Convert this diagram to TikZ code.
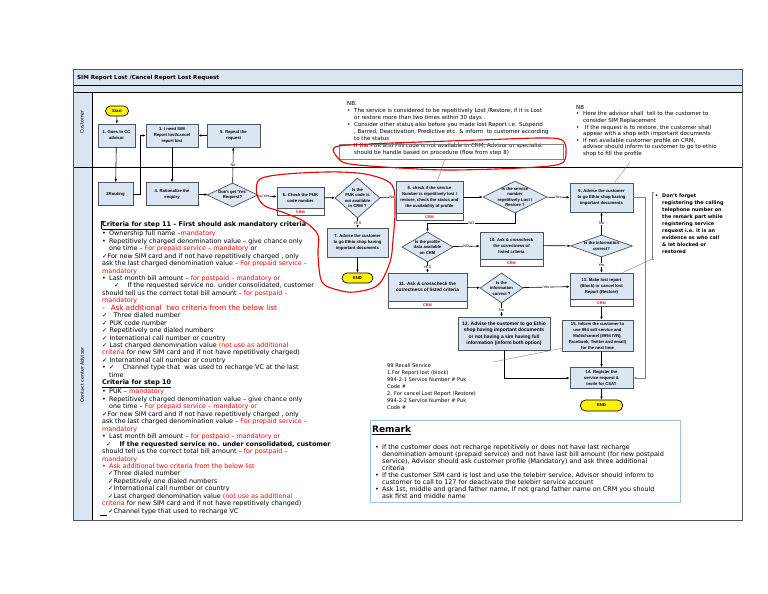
\documentclass[tikz,border=0pt]{standalone}
\usepackage{fontspec}
\setmainfont{DejaVu Sans}
\newfontfamily\boxfont{Liberation Sans}
\usetikzlibrary{arrows.meta, positioning, shapes.geometric}

\definecolor{lanefill}{RGB}{219,229,241}
\definecolor{boxfill}{RGB}{220,230,242}
\definecolor{boxline}{RGB}{75,85,100}
\definecolor{remarkline}{RGB}{155,194,230}
\definecolor{penred}{RGB}{230,0,0}

\newcommand{\rd}[1]{\textcolor{red}{#1}}
\newcommand{\bl}{\makebox[7pt][l]{•}}
\newcommand{\ck}{✓}

\begin{document}
\begin{tikzpicture}[x=10pt, y=-10pt,
    proc/.style={rectangle, draw=boxline, fill=boxfill, line width=0.7pt, align=center, inner sep=0.5pt, font=\boxfont\fontsize{4.2}{6}\selectfont\bfseries},
    crm/.style={rectangle, draw=boxline, fill=white, line width=0.7pt, minimum width=#1, minimum height=7pt, inner sep=0pt, text=red, font=\boxfont\fontsize{3.8}{4}\selectfont\bfseries},
    decision/.style={diamond, draw=boxline, fill=boxfill, line width=0.7pt, inner sep=0pt},
    dtext/.style={align=center, inner sep=0pt, font=\boxfont\fontsize{4.2}{5.5}\selectfont\bfseries},
    term/.style={rectangle, rounded corners=5pt, draw, fill=yellow, line width=0.7pt, minimum height=10pt, inner sep=0pt, font=\boxfont\fontsize{4.2}{5}\selectfont\bfseries},
    arrow/.style={-{Latex[length=3pt, width=2.6pt]}, line width=0.6pt},
    callout/.style={draw=gray, line width=0.4pt},
    yn/.style={font=\boxfont\fontsize{3.8}{4}\selectfont, fill=white, inner sep=0.4pt},
    note/.style={anchor=north west, align=left, inner sep=0pt},
    redmark/.style={draw=penred, line width=1.1pt},
]
\useasboundingbox (0,0) rectangle (76.8,59.4);

% Frame and swimlanes
\fill[lanefill] (7.3,7.0) rectangle (74.2,9.2);
\fill[lanefill] (7.3,9.2) rectangle (9.2,52.0);
\draw[line width=0.5pt] (7.3,8.5) -- (74.2,8.5);
\draw[line width=0.6pt] (7.3,9.2) -- (74.2,9.2);
\draw[line width=0.6pt] (9.2,9.2) -- (9.2,52.0);
\draw[line width=0.7pt] (7.3,16.7) -- (74.2,16.7);
\draw[boxline, line width=1pt] (7.3,7.0) rectangle (74.2,52.0);
\node[anchor=west, inner sep=0pt, font=\fontsize{5.6}{6}\selectfont\bfseries] (title) at (7.7,7.8) {SIM Report Lost /Cancel Report Lost Request};
\node[rotate=90, font=\fontsize{4.8}{5}\selectfont] (lcust) at (8.2,12.2) {Customer};
\node[rotate=90, font=\fontsize{4.8}{5}\selectfont] (ladv) at (8.2,37.5) {Contact center Advisor};

% Customer lane
\node[term, minimum width=23pt] (start) at (11.7,11.1) {Start};
\node[proc, minimum width=37pt, minimum height=23pt] (n1) at (11.65,13.55) {1. Goes to CC\\advisor};
\node[proc, minimum width=52pt, minimum height=23pt] (n3) at (17.2,13.55) {3. I need SIM\\Report lost/cancel\\report lost};
\node[proc, minimum width=53pt, minimum height=23pt] (n5) at (23.35,13.55) {5. Repeat the\\request};

% Advisor lane
\node[proc, minimum width=35pt, minimum height=23pt] (n2) at (11.55,19.4) {2Routing};
\node[proc, minimum width=52pt, minimum height=23pt] (n4) at (17.2,19.4) {4. Rationalize the\\enquiry};
\node[decision, minimum width=51pt, minimum height=24pt] (d1) at (23.25,19.5) {};
\node[dtext] (d1t) at (d1) {Don't get 'Yes'\\Request?};
\node[proc, minimum width=47pt, minimum height=21pt] (n6) at (30.05,19.75) {6. Check the PUK\\code number};
\node[crm=47pt, below=0pt of n6] (n6crm) {CRM};
\node[decision, minimum width=45pt, minimum height=40pt] (d2) at (35.75,19.8) {};
\node[dtext] (d2t) at (d2) {Is the\\PUK code is\\not available\\in CRM ?};
\node[proc, minimum width=61pt, minimum height=29pt] (n7) at (35.75,24.25) {7. Advise the customer\\to go Ethio shop having\\important documents};
\node[term, minimum width=31pt] (end1) at (35.75,27.8) {END};
\node[proc, minimum width=67pt, minimum height=32pt] (n8) at (42.95,19.7) {8. check if the service\\Number is repetitively lost /\\restore, check the status and\\the availability of profile};
\node[crm=67pt, below=0pt of n8] (n8crm) {CRM};
\node[decision, minimum width=64pt, minimum height=32pt] (d3) at (51.5,19.7) {};
\node[dtext] (d3t) at (d3) {Is the service\\number\\repetitively Lost /\\Restore ?};
\node[proc, minimum width=63pt, minimum height=29pt] (n9) at (60.15,19.75) {9. Advise the customer\\to go Ethio shop having\\important documents};
\node[decision, minimum width=51pt, minimum height=30pt] (d4) at (42.75,24.7) {};
\node[dtext] (d4t) at (d4) {Is the profile\\data available\\on CRM};
\node[proc, minimum width=63pt, minimum height=27pt] (n10) at (51.15,24.55) {10. Ask \& crosscheck\\the correctness of\\listed criteria};
\node[crm=63pt, below=0pt of n10] (n10crm) {CRM};
\node[decision, minimum width=62pt, minimum height=22pt] (d5) at (60.15,24.6) {};
\node[dtext] (d5t) at (d5) {Is the information\\correct?};
\node[proc, minimum width=79pt, minimum height=28pt, font=\boxfont\fontsize{4.7}{6.5}\selectfont\bfseries] (n11) at (42.75,28.7) {11. Ask \& crosscheck the\\correctness of listed criteria};
\node[crm=79pt, below=0pt of n11] (n11crm) {CRM};
\node[decision, minimum width=43pt, minimum height=30pt] (d6) at (50.15,28.8) {};
\node[dtext] (d6t) at (d6) {Is the\\information\\correct ?};
\node[proc, minimum width=63pt, minimum height=26pt] (n13) at (60.15,28.6) {13. Make lost report\\(Block) or cancel lost\\Report (Restore)};
\node[crm=63pt, below=0pt of n13] (n13crm) {CRM};
\node[proc, minimum width=92pt, minimum height=33pt, font=\boxfont\fontsize{4.9}{6.5}\selectfont\bfseries] (n12) at (50.4,33.35) {12. Advise the customer to go Ethio\\shop having important documents\\or not having a sim having full\\information (inform both option)};
\node[proc, minimum width=71pt, minimum height=31pt] (n15) at (59.75,33.55) {15. Inform the customer to\\use 994 self service and\\Multichannel (8994 IVR),\\Facebook, Twitter and email)\\for the next time};
\node[proc, minimum width=63pt, minimum height=21pt] (n14) at (60.15,37.8) {14. Register the\\service request \&\\invite for CSAT};
\node[term, minimum width=42pt, minimum height=11pt] (end2) at (60.15,40.55) {END};

% Flow
\draw[arrow] (start) -- (n1);
\draw[arrow] (n1) -- (n2);
\draw[arrow] (n2.east) -- ++(7pt,0) |- (n3.west);
\draw[arrow] (n3) -- (n4);
\draw[arrow] (n4) -- (d1);
\draw[arrow] (d1) -- node[yn]{No} (n5);
\draw[arrow] (n5) -- (n3);
\draw[arrow] (d1) -- node[yn]{Yes} (n6);
\draw[arrow] (n6) -- (d2);
\draw[arrow] (d2) -- node[yn]{YES} (n7);
\draw[arrow] (n7) -- (end1);
\draw[arrow] (d2) -- node[yn, near end]{No} (n8);
\draw[arrow] (n8) -- (d3);
\draw[arrow] (d3) -- node[yn]{Yes} (n9);
\draw[arrow] (d3.south) -- ++(0,-10pt) -| node[yn, pos=0.25]{NO} (d4.north);
\draw[arrow] (d4) -- node[yn]{NO} (n10);
\draw[arrow] (n10) -- (d5);
\draw[arrow] (d5) -- node[yn]{No} (n9);
\draw[arrow] (d5) -- node[yn]{Yes} (n13);
\draw[arrow] (d4) -- node[yn]{YES} (n11);
\draw[arrow] (n11) -- (d6);
\draw[arrow] (d6) -- node[yn]{Yes} (n13);
\draw[arrow] (d6) -- node[yn]{No} (d6 |- n12.north);
\draw[arrow] (n12.south) |- (n14.west);
\draw[arrow] (n13crm) -- (n13crm |- n15.north);
\draw[arrow] (n15.south -| n14) -- (n14);
\draw[arrow] (n14) -- (end2);
\draw[arrow, gray] (n9.east) -- ++(12pt,0) |- (n14.east);

% Notes
\node[note, font=\fontsize{5.5}{7}\selectfont] (nbmid) at (34.7,10.15) {NB.\\
\bl The service is considered to be repetitively Lost /Restore, if it is Lost\\
\hspace*{7pt}or restore more than two times within 30 days .\\
\bl Consider other status also before you made lost Report i.e. Suspend\\
\hspace*{7pt}, Barred, Deactivation, Predictive etc. \& inform\ \ to customer according\\
\hspace*{7pt}to the status\\
\bl If the PUK and PIN code is not available in CRM, Advisor or specialist\\
\hspace*{7pt}should be handle based on procedure (flow from step 8)};
\draw[gray, line width=0.4pt] (33.9,14.4) rectangle (56.3,15.9);
\node[note, font=\fontsize{5.5}{6.6}\selectfont] (nbright) at (57.6,10.5) {NB\\
\bl Here the advisor shall\ \ tell to the customer to\\
\hspace*{7pt}consider SIM Replacement\\
\bl\ If the request is to restore, the customer shall\\
\hspace*{7pt}appear with a shop with important documents\\
\bl If not available customer profile on CRM,\\
\hspace*{7pt}advisor should inform to customer to go to ethio\\
\hspace*{7pt}shop to fill the profile};
\node[note, font=\fontsize{4.9}{7}\selectfont\bfseries] (nbforget) at (65.5,19.4) {\bl Don't forget\\
\hspace*{7pt}registering the calling\\
\hspace*{7pt}telephone number on\\
\hspace*{7pt}the remark part while\\
\hspace*{7pt}registering service\\
\hspace*{7pt}request i.e. it is an\\
\hspace*{7pt}evidence as who call\\
\hspace*{7pt}\& let blocked or\\
\hspace*{7pt}restored};
\draw[gray, line width=0.4pt] (65.4,19.2) -- (65.2,19.2) -- (65.2,25.9) -- (65.4,25.9);
\node[note, font=\fontsize{5.1}{7}\selectfont] (recall) at (38.7,36.35) {99 Recall Service\\
1.For Report lost (block)\\
994-2-1 Service Number \# Puk\\
Code \#\\
2. For cancel Lost Report (Restore)\\
994-2-2 Service Number \# Puk\\
Code \#};

% Callouts
\draw[callout] (44.5,15.9) -- ([xshift=8pt]n8.north);
\draw[callout] (63.0,16.2) -- ([xshift=13pt]n9.north);
\draw[callout] (65.2,25.9) -- ([xshift=21pt]n13.north);
\draw[callout] (49.3,36.2) -- ([yshift=3pt]n15.south west);

% Criteria
\draw[line width=0.4pt] (10.4,22.15) -- (10.1,22.15) -- (10.1,22.9);
\draw[line width=0.4pt] (10.0,51.5) -- (10.7,51.5);
\node[note, font=\fontsize{6.4}{7.45}\selectfont] (crit) at (10.2,22.15) {{\bfseries\underline{Criteria for step 11} – First should ask mandatory criteria}\\
\bl Ownership full name –\rd{mandatory}\\
\bl Repetitively charged denomination value – give chance only\\
\hspace*{7pt}one time – \rd{For prepaid service – mandatory} or\\
\ck For new SIM card and if not have repetitively charged , only\\
ask the last charged denomination value – \rd{For prepaid service –}\\
\rd{mandatory}\\
\bl Last month bill amount – \rd{for postpaid – mandatory or}\\
\hspace*{12pt}\ck\hspace{8pt}If the requested service no. under consolidated, customer\\
should tell us the correct total bill amount – \rd{for postpaid –}\\
\rd{mandatory}\\
{\fontsize{7.2}{7.45}\selectfont\rd{-\hspace{6pt}Ask additional\ \ two criteria from the below list}}\\
\ck\hspace{6pt}Three dialed number\\
\ck\ PUK code number\\
\ck\ Repetitively one dialed numbers\\
\ck\ International call number or country\\
\ck\ Last charged denomination value \rd{(not use as additional}\\
\rd{criteria} for new SIM card and if not have repetitively charged)\\
\ck\ International call number or country\\
\bl\ck\hspace{8pt}Channel type that\ \ was used to recharge VC at the last\\
\hspace*{7pt}time\\
{\bfseries\underline{Criteria for step 10}}\\
\bl PUK – \rd{mandatory}\\
\bl Repetitively charged denomination value – give chance only\\
\hspace*{7pt}one time – \rd{For prepaid service – mandatory or}\\
\ck For new SIM card and if not have repetitively charged , only\\
ask the last charged denomination value – \rd{For prepaid service –}\\
\rd{mandatory}\\
\bl Last month bill amount – \rd{for postpaid – mandatory or}\\
\hspace*{4pt}\ck\hspace{8pt}{\bfseries If the requested service no. under consolidated, customer}\\
should tell us the correct total bill amount – \rd{for postpaid –}\\
\rd{mandatory}\\
\rd{\bl Ask additional two criteria from the below list}\\
\hspace*{6pt}\ck Three dialed number\\
\hspace*{6pt}\ck Repetitively one dialed numbers\\
\hspace*{6pt}\ck International call number or country\\
\hspace*{6pt}\ck Last charged denomination value \rd{(not use as additional}\\
\rd{criteria} for new SIM card and if not have repetitively changed)\\
\hspace*{6pt}\ck Channel type that used to recharge VC};

% Remark
\node[draw=remarkline, line width=0.6pt, minimum width=310pt, minimum height=82pt, anchor=north west, inner sep=0pt] (remark) at (37.0,42.0) {};
\node[anchor=west, inner sep=0pt, font=\fontsize{9}{10}\selectfont\bfseries] (remtitle) at (37.2,43.0) {\underline{Remark}};
\node[note, font=\fontsize{6.4}{7}\selectfont] (remtext) at (37.5,44.4) {\bl If the customer does not recharge repetitively or does not have last recharge\\
\hspace*{7pt}denomination amount (prepaid service) and not have last bill amount (for new postpaid\\
\hspace*{7pt}service), Advisor should ask customer profile (Mandatory) and ask three additional\\
\hspace*{7pt}criteria\\
\bl If the customer SIM card is lost and use the telebirr service, Advisor should inform to\\
\hspace*{7pt}customer to call to 127 for deactivate the telebirr service account\\
\bl Ask 1st, middle and grand father name, If not grand father name on CRM you should\\
\hspace*{7pt}ask first and middle name};

% Hand-drawn marks
\draw[redmark] plot[smooth cycle, tension=0.55] coordinates {(33.5,14.7) (33.8,15.8) (35,16.4) (40,16.8) (45,17.0) (52,16.8) (56,16.4) (56.6,15.2) (56.2,14.0) (54,13.8) (48,14.0) (42,14.2) (37,14.4)};
\draw[redmark] plot[smooth cycle, tension=0.55] coordinates {(25.8,18.1) (27,17.6) (30,17.3) (34,17.2) (37,17.5) (39.2,18.5) (39.5,21) (39.3,24) (39,26.2) (37.8,28.5) (35.5,29.2) (33.8,29) (32.2,28.2) (31.8,25.5) (31.8,23.5) (30.5,22.2) (28.5,21.3) (26.5,20.6) (25.7,19.5)};
\end{tikzpicture}
\end{document}
